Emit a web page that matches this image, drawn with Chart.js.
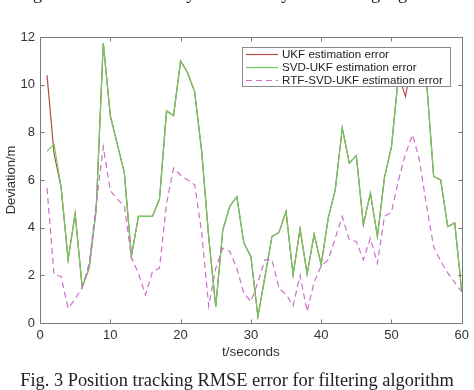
<!DOCTYPE html>
<html><head><meta charset="utf-8">
<script src="https://cdn.jsdelivr.net/npm/chart.js@4.4.0/dist/chart.umd.min.js"></script>
<style>
html,body{margin:0;padding:0;background:#fff;width:474px;height:390px;overflow:hidden;}
#wrap{position:absolute;left:0;top:0;width:474px;height:390px;}
.cap{position:absolute;left:0;width:474px;text-align:center;font-family:"Liberation Serif","Times New Roman",serif;font-size:18.4px;color:#222;white-space:nowrap;line-height:1;}
</style></head><body>
<div id="wrap"><canvas id="c" width="474" height="390"></canvas></div>
<div class="cap" style="top:-16px">Fig. 2 Position accuracy and velocity for filtering algorithm</div>
<div class="cap" style="top:371px">Fig. 3 Position tracking RMSE error for filtering algorithm</div>
<script>
const tSeconds = [1,2,3,4,5,6,7,8,9,10,11,12,13,14,15,16,17,18,19,20,21,22,23,24,25,26,27,28,29,30,
                  31,32,33,34,35,36,37,38,39,40,41,42,43,44,45,46,47,48,49,50,51,52,53,54,55,56,57,58,59,60];
const ukfError = [10.4,7.1,5.7,2.65,4.6,1.5,2.3,4.8,11.75,8.7,7.5,6.3,2.8,4.47,4.47,4.47,5.2,8.9,8.7,11.0,
                  10.5,9.7,7.2,3.6,0.68,3.9,4.9,5.3,3.35,2.79,0.27,1.95,3.63,3.8,4.68,2.02,3.96,2.05,3.72,2.44,
                  4.4,5.59,8.18,6.71,7.02,4.12,5.45,3.63,6.1,7.4,10.4,9.5,11.2,11.0,10.1,6.15,6.0,4.05,4.2,1.3];
const svdUkfError = [7.2,7.5,5.7,2.65,4.6,1.5,2.3,4.8,11.75,8.7,7.5,6.3,2.8,4.47,4.47,4.47,5.2,8.9,8.7,11.0,
                  10.5,9.7,7.2,3.6,0.68,3.9,4.9,5.3,3.35,2.79,0.27,1.95,3.63,3.8,4.68,2.02,3.96,2.05,3.72,2.44,
                  4.4,5.59,8.18,6.71,7.02,4.12,5.45,3.63,6.1,7.4,10.4,11.0,11.2,11.0,10.1,6.15,6.0,4.05,4.2,1.3];
const rtfSvdUkfError = [5.66,2.02,1.95,0.62,1.0,1.5,2.5,5.0,7.4,5.55,5.2,4.9,2.75,2.09,1.18,2.16,2.3,5.0,6.5,6.2,
                  6.0,5.8,3.8,0.7,2.3,3.14,3.0,2.3,1.25,0.9,1.7,2.65,2.65,1.46,1.2,0.72,2.0,0.48,1.72,2.4,
                  2.65,3.56,4.47,3.49,3.42,2.65,3.56,2.5,4.47,4.65,6.0,7.1,7.9,6.8,4.9,3.2,2.6,2.1,1.7,1.3];
const xTickValues = [0,10,20,30,40,50,60];
const yTickValues = [0,2,4,6,8,10,12];
const seriesNames = ['UKF estimation error','SVD-UKF estimation error','RTF-SVD-UKF estimation error'];

const pts = arr => arr.map((v,i)=>({x:tSeconds[i], y:v}));
const sans = '"Liberation Sans", Arial, sans-serif';

const boxPlugin = {
  id:'box',
  afterDraw(chart){
    const {ctx, chartArea:a, scales:{x,y}} = chart;
    ctx.save();
    ctx.strokeStyle='#7a7a7a'; ctx.lineWidth=1;
    const L=Math.round(a.left)+0.5, R=Math.round(a.right)+0.5, T=Math.round(a.top)+0.5, B=Math.round(a.bottom)+0.5;
    ctx.beginPath();
    ctx.rect(L,T,R-L,B-T);
    const tl=4;
    xTickValues.forEach(v=>{const px=Math.round(x.getPixelForValue(v))+0.5;
      ctx.moveTo(px,B); ctx.lineTo(px,B-tl); ctx.moveTo(px,T); ctx.lineTo(px,T+tl);});
    yTickValues.forEach(v=>{const py=Math.round(y.getPixelForValue(v))+0.5;
      ctx.moveTo(L,py); ctx.lineTo(L+tl,py); ctx.moveTo(R,py); ctx.lineTo(R-tl,py);});
    ctx.stroke();
    // legend
    const lx=242.5, ly=47.5, lw=208, lh=39;
    ctx.fillStyle='#fff'; ctx.fillRect(lx,ly,lw,lh);
    ctx.strokeStyle='#8a8a8a'; ctx.strokeRect(lx,ly,lw,lh);
    ctx.font='11.6px ' + sans;
    ctx.textBaseline='middle'; ctx.textAlign='left';
    const rows=[54.5,67.5,80.5];
    chart.data.datasets.forEach((ds,i)=>{
      ctx.beginPath();
      ctx.strokeStyle=ds.borderColor; ctx.lineWidth=ds.borderWidth;
      ctx.setLineDash(ds.borderDash||[]);
      ctx.moveTo(246,rows[i]); ctx.lineTo(278,rows[i]); ctx.stroke();
      ctx.setLineDash([]);
      ctx.fillStyle='#222';
      ctx.fillText(ds.label,282,rows[i]+0.5);
    });
    ctx.restore();
  }
};

new Chart(document.getElementById('c'),{
  type:'line',
  data:{datasets:[
    {label:seriesNames[0], data:pts(ukfError), borderColor:'rgb(178,78,66)', borderWidth:1.2, pointRadius:0, fill:false, tension:0, order:3},
    {label:seriesNames[1], data:pts(svdUkfError), borderColor:'rgb(108,205,98)', borderWidth:1.2, pointRadius:0, fill:false, tension:0, order:2},
    {label:seriesNames[2], data:pts(rtfSvdUkfError), borderColor:'rgb(204,112,204)', borderWidth:1.2, borderDash:[6,4], pointRadius:0, fill:false, tension:0, order:1}
  ]},
  options:{
    responsive:false, animation:false, devicePixelRatio:1,
    layout:{padding:{left:0,top:37,right:12,bottom:25}},
    plugins:{legend:{display:false}, tooltip:{enabled:false}},
    scales:{
      x:{type:'linear', min:0, max:60,
        afterBuildTicks:s=>{s.ticks=xTickValues.map(v=>({value:v}));},
        afterFit:s=>{s.height=42;},
        grid:{display:false, drawTicks:false}, border:{display:false},
        ticks:{color:'#333', font:{family:sans, size:13}, padding:5, maxRotation:0, autoSkip:false},
        title:{display:true, text:'t/seconds', color:'#333', font:{family:sans, size:13.5}, padding:{top:0,bottom:5}}
      },
      y:{type:'linear', min:0, max:12,
        afterBuildTicks:s=>{s.ticks=yTickValues.map(v=>({value:v}));},
        afterFit:s=>{s.width=40;},
        grid:{display:false, drawTicks:false}, border:{display:false},
        ticks:{color:'#333', font:{family:sans, size:13}, padding:5, autoSkip:false},
        title:{display:true, text:'Deviation/m', color:'#333', font:{family:sans, size:13}, padding:{top:4,bottom:0}}
      }
    }
  },
  plugins:[boxPlugin]
});
</script>
</body></html>
